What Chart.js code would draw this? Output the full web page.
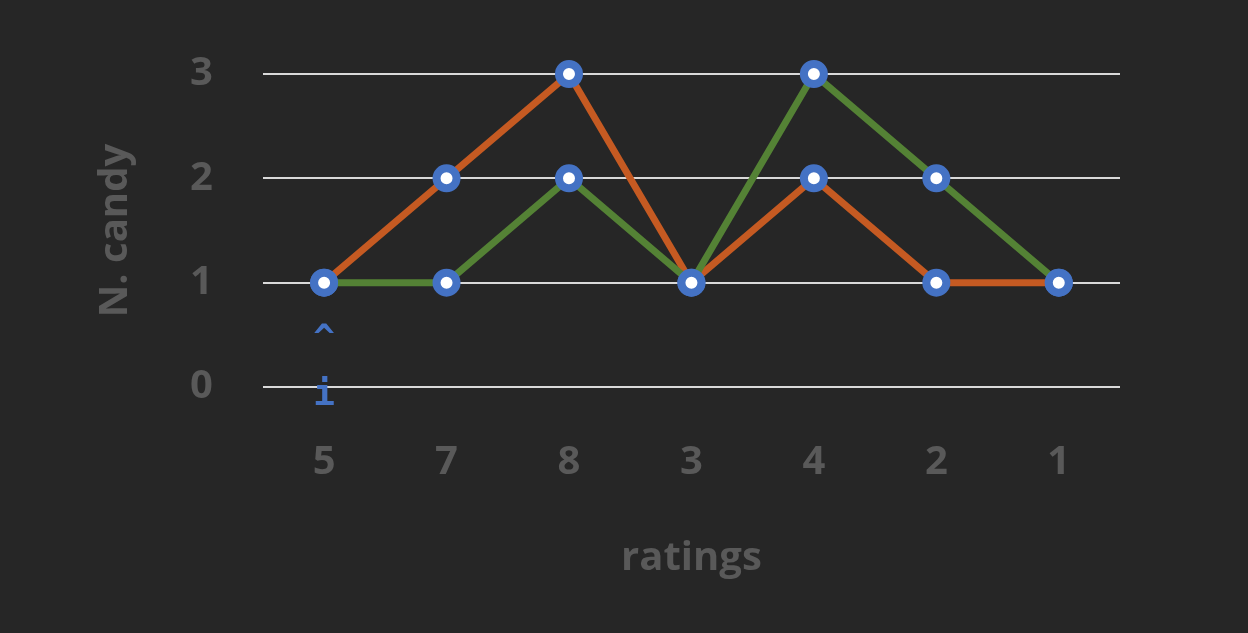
<!DOCTYPE html>
<html>
<head>
<meta charset="utf-8">
<script src="https://cdn.jsdelivr.net/npm/chart.js@4"></script>
<style>
  html, body { margin: 0; padding: 0; background: #262626; }
  #wrap { width: 1248px; height: 633px; }
</style>
</head>
<body>
<div id="wrap"><canvas id="candy-chart"></canvas></div>
<script>
'use strict';
const ratings = ['5', '7', '8', '3', '4', '2', '1'];
const orangeSeries = [1, 2, 3, 1, 2, 1, 1];
const greenSeries = [1, 1, 2, 1, 3, 2, 1];
const yTicks = [0, 1, 2, 3];
const TextColor = '#595959';

// blue "^" and "i" marks under the first point
const markPlugin = {
  id: 'marks',
  afterDatasetsDraw(chart) {
    let ctx = chart.ctx;
    let x = chart.scales.x.getPixelForValue(0);
    let y = chart.scales.y;
    ctx.save();
    ctx.fillStyle = '#4472C4';
    ctx.textAlign = 'center';
    ctx.textBaseline = 'middle';
    ctx.font = 'bold 36px "DejaVu Sans Mono"';
    ctx.fillText('^', x, y.getPixelForValue(0.45));
    ctx.fillText('i', x, y.getPixelForValue(-0.08));
    ctx.restore();
  },
};

function lineSet(data, color) {
  return {
    data,
    borderColor: color,
    borderWidth: 7,
    tension: 0,
    clip: false,
    pointRadius: 10,
    pointHoverRadius: 10,
    pointBorderWidth: 8,
    pointBorderColor: '#4472C4',
    pointBackgroundColor: '#ffffff',
  };
}

const bigFont = { size: 40, weight: 'bold', family: 'Open Sans' };

new Chart(document.getElementById('candy-chart'), {
  type: 'line',
  data: {
    labels: ratings,
    datasets: [
      lineSet(greenSeries, '#548235'),
      lineSet(orangeSeries, '#C55A22'),
    ],
  },
  options: {
    responsive: true,
    maintainAspectRatio: false,
    animation: false,
    layout: { padding: { left: 88, right: 128, top: 34, bottom: 46 } },
    plugins: { legend: { display: false }, tooltip: { enabled: false } },
    scales: {
      x: {
        offset: true,
        grid: { display: false },
        border: { display: false },
        ticks: { color: TextColor, font: bigFont, padding: 44 },
        title: { display: true, text: 'ratings', color: TextColor, font: bigFont, padding: { top: 4 } },
      },
      y: {
        min: yTicks[0],
        max: yTicks[yTicks.length - 1],
        afterBuildTicks(axis) { axis.ticks = yTicks.map(v => ({ value: v })); },
        grid: { color: '#d9d9d9', lineWidth: 2, drawTicks: false },
        border: { display: false },
        ticks: { color: TextColor, font: bigFont, padding: 50 },
        title: { display: true, text: 'N. candy', color: TextColor, font: bigFont, padding: { bottom: 0 } },
      },
    },
  },
  plugins: [markPlugin],
});
</script>
</body>
</html>
